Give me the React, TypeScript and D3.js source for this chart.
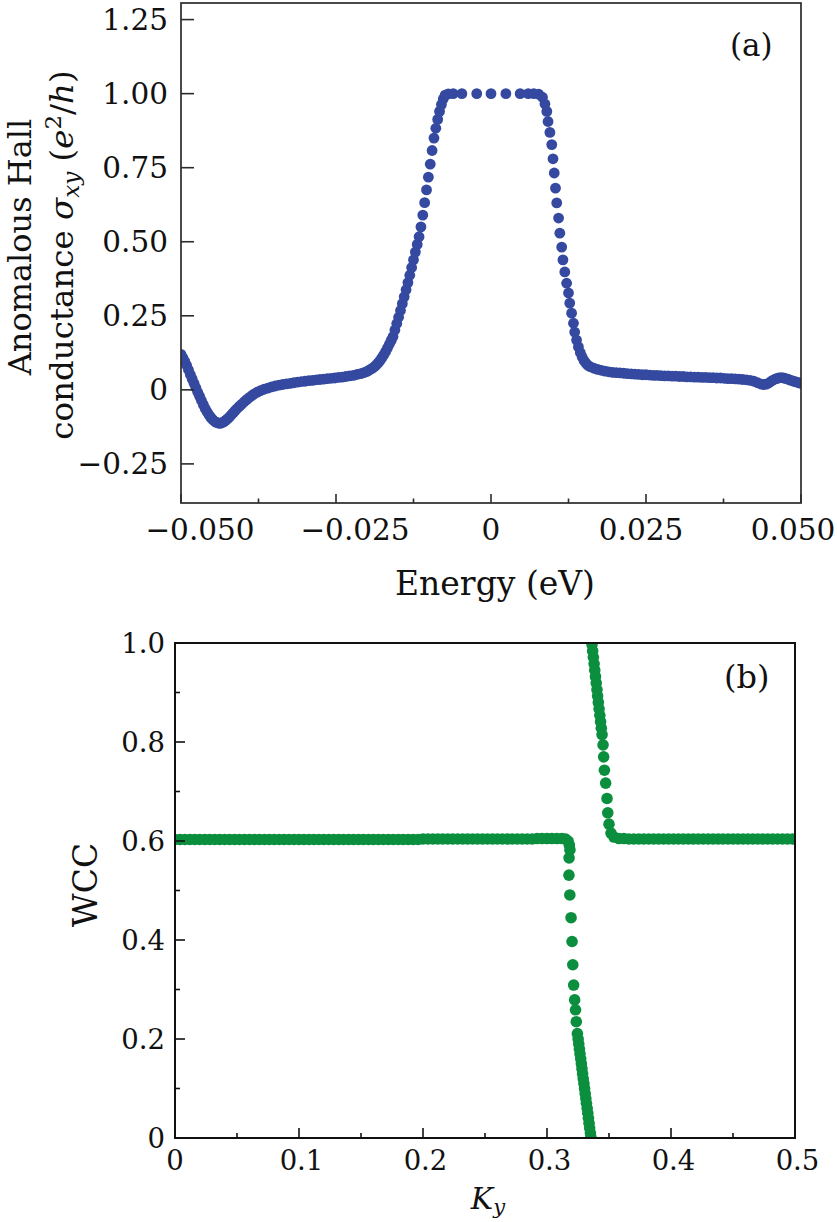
import React from "react";
import * as d3 from "d3";

type Pt = [number, number];

// ---------- (a) anomalous Hall conductance sigma_xy (e^2/h) versus energy (eV)
const hallLowTail: Pt[] = [
  [-0.05, 0.12], [-0.0497, 0.108], [-0.0494, 0.096], [-0.0491, 0.083], [-0.0488, 0.068],
  [-0.0485, 0.052], [-0.0482, 0.037], [-0.0479, 0.022], [-0.0476, 0.007], [-0.0473, -0.008],
  [-0.047, -0.022], [-0.0467, -0.036], [-0.0464, -0.05], [-0.0461, -0.063], [-0.0458, -0.074],
  [-0.0455, -0.084], [-0.0452, -0.093], [-0.0449, -0.1], [-0.0446, -0.106], [-0.0443, -0.11],
  [-0.044, -0.112], [-0.0437, -0.113], [-0.0434, -0.111], [-0.0431, -0.108], [-0.0428, -0.103],
  [-0.0425, -0.098], [-0.0422, -0.092], [-0.0419, -0.085], [-0.0416, -0.078], [-0.0413, -0.071],
  [-0.041, -0.064], [-0.0406, -0.056], [-0.0402, -0.048], [-0.0398, -0.04], [-0.0394, -0.033],
  [-0.039, -0.026], [-0.0386, -0.02], [-0.0382, -0.014], [-0.0377, -0.008], [-0.0372, -0.003],
  [-0.0366, 0.002], [-0.036, 0.006], [-0.0354, 0.01], [-0.0348, 0.013], [-0.0342, 0.016],
  [-0.0336, 0.018], [-0.033, 0.02], [-0.0324, 0.022], [-0.0318, 0.024], [-0.0312, 0.026],
  [-0.0306, 0.028], [-0.03, 0.029], [-0.0294, 0.031], [-0.0288, 0.032], [-0.0282, 0.034],
  [-0.0276, 0.035], [-0.027, 0.036], [-0.0264, 0.038], [-0.0258, 0.039], [-0.0252, 0.04],
  [-0.0246, 0.042], [-0.024, 0.043], [-0.0234, 0.045], [-0.0228, 0.047], [-0.0222, 0.049],
  [-0.0216, 0.052], [-0.021, 0.055], [-0.0205, 0.058], [-0.02, 0.062], [-0.0196, 0.067],
  [-0.0192, 0.072], [-0.0188, 0.078], [-0.0185, 0.084], [-0.0182, 0.091], [-0.0179, 0.099],
  [-0.0176, 0.108], [-0.0173, 0.118], [-0.017, 0.129], [-0.0167, 0.141], [-0.0164, 0.154],
  [-0.0161, 0.167],
];

const hallRise: Pt[] = [
  [-0.0158, 0.18], [-0.0155, 0.202], [-0.0152, 0.224], [-0.0149, 0.245], [-0.0146, 0.268],
  [-0.0143, 0.291], [-0.014, 0.314], [-0.0137, 0.338], [-0.0134, 0.362], [-0.0131, 0.387],
  [-0.0128, 0.413], [-0.0125, 0.439], [-0.0122, 0.465], [-0.0119, 0.491], [-0.0116, 0.517],
  [-0.0113, 0.55], [-0.011, 0.59], [-0.0107, 0.632], [-0.0104, 0.675], [-0.0101, 0.718],
  [-0.0098, 0.762], [-0.0095, 0.808], [-0.0092, 0.85], [-0.0089, 0.883], [-0.0086, 0.913],
  [-0.0083, 0.94], [-0.008, 0.963], [-0.0077, 0.982], [-0.0074, 0.995],
];

const hallPlateau: Pt[] = [
  [-0.0069, 0.999], [-0.0061, 1.0], [-0.0047, 1.0], [-0.0023, 1.0], [0.0, 1.0],
  [0.0024, 1.0], [0.0047, 1.0], [0.006, 1.0], [0.0069, 1.0], [0.0077, 0.998],
];

const hallFall: Pt[] = [
  [0.0083, 0.988], [0.0087, 0.965], [0.009, 0.94], [0.0092, 0.906], [0.0095, 0.869],
  [0.0098, 0.828], [0.01, 0.78], [0.0102, 0.732], [0.0104, 0.681], [0.0106, 0.631],
  [0.0109, 0.58], [0.0111, 0.529], [0.0114, 0.482], [0.0116, 0.439], [0.0119, 0.398],
  [0.0122, 0.36], [0.0125, 0.327], [0.0127, 0.293], [0.013, 0.259], [0.0133, 0.225],
  [0.0135, 0.195], [0.0138, 0.168], [0.0141, 0.145], [0.0144, 0.126], [0.0147, 0.111],
  [0.015, 0.099], [0.0153, 0.09], [0.0156, 0.083],
];

const hallHighTail: Pt[] = [
  [0.016, 0.078], [0.0166, 0.073], [0.0172, 0.069], [0.0178, 0.066], [0.0184, 0.063],
  [0.019, 0.061], [0.0196, 0.059], [0.0202, 0.058], [0.0208, 0.057], [0.0214, 0.056],
  [0.022, 0.055], [0.0226, 0.054], [0.0232, 0.053], [0.0238, 0.052], [0.0244, 0.051],
  [0.025, 0.051], [0.0256, 0.05], [0.0262, 0.049], [0.0268, 0.049], [0.0274, 0.048],
  [0.028, 0.047], [0.0286, 0.047], [0.0292, 0.046], [0.0298, 0.046], [0.0304, 0.045],
  [0.031, 0.045], [0.0316, 0.044], [0.0322, 0.044], [0.0328, 0.043], [0.0334, 0.043],
  [0.034, 0.042], [0.0346, 0.042], [0.0352, 0.041], [0.0358, 0.041], [0.0364, 0.04],
  [0.037, 0.04], [0.0376, 0.039], [0.0382, 0.038], [0.0388, 0.038], [0.0394, 0.037],
  [0.04, 0.036], [0.0406, 0.035], [0.0412, 0.034], [0.0418, 0.032], [0.0424, 0.029],
  [0.043, 0.024], [0.0436, 0.019], [0.044, 0.018], [0.0444, 0.019], [0.0448, 0.023],
  [0.0452, 0.029], [0.0456, 0.034], [0.046, 0.038], [0.0464, 0.04], [0.0468, 0.041],
  [0.0472, 0.04], [0.0476, 0.038], [0.048, 0.035], [0.0484, 0.032], [0.0488, 0.029],
  [0.0492, 0.027], [0.0496, 0.024], [0.05, 0.022],
];

const energyMajorTicks = [-0.05, -0.025, 0, 0.025, 0.05];
const energyMinorTicks = [-0.0375, -0.0125, 0.0125, 0.0375];
const energyTickLabels = ["\u22120.050", "\u22120.025", "0", "0.025", "0.050"];
const hallTicks = [-0.25, 0, 0.25, 0.5, 0.75, 1.0, 1.25];
const hallTickLabels = ["\u22120.25", "0", "0.25", "0.50", "0.75", "1.00", "1.25"];

// ---------- (b) Wannier charge centre versus K_y
const wccFlatLeft: Pt[] = [
  [0.0, 0.603], [0.004, 0.603], [0.008, 0.603], [0.012, 0.603], [0.016, 0.603],
  [0.02, 0.603], [0.024, 0.603], [0.028, 0.603], [0.032, 0.603], [0.036, 0.603],
  [0.04, 0.603], [0.044, 0.603], [0.048, 0.603], [0.052, 0.603], [0.056, 0.603],
  [0.06, 0.603], [0.064, 0.603], [0.068, 0.603], [0.072, 0.603], [0.076, 0.603],
  [0.08, 0.603], [0.084, 0.603], [0.088, 0.603], [0.092, 0.603], [0.096, 0.603],
  [0.1, 0.603], [0.104, 0.603], [0.108, 0.603], [0.112, 0.603], [0.116, 0.603],
  [0.12, 0.603], [0.124, 0.603], [0.128, 0.603], [0.132, 0.603], [0.136, 0.603],
  [0.14, 0.603], [0.144, 0.603], [0.148, 0.603], [0.152, 0.603], [0.156, 0.603],
  [0.16, 0.603], [0.164, 0.603], [0.168, 0.603], [0.172, 0.603], [0.176, 0.603],
  [0.18, 0.603], [0.184, 0.603], [0.188, 0.603], [0.192, 0.603], [0.196, 0.603],
  [0.2, 0.604], [0.204, 0.604], [0.208, 0.604], [0.212, 0.604], [0.216, 0.604],
  [0.22, 0.604], [0.224, 0.604], [0.228, 0.604], [0.232, 0.604], [0.236, 0.604],
  [0.24, 0.604], [0.244, 0.604], [0.248, 0.604], [0.252, 0.604], [0.256, 0.604],
  [0.26, 0.604], [0.264, 0.604], [0.268, 0.604], [0.272, 0.604], [0.276, 0.604],
  [0.28, 0.604], [0.284, 0.604], [0.288, 0.604], [0.292, 0.605], [0.296, 0.605],
  [0.3, 0.605], [0.304, 0.605], [0.308, 0.605], [0.312, 0.605], [0.315, 0.604],
];

const wccLowerBranch: Pt[] = [
  [0.317, 0.6], [0.318, 0.592], [0.3185, 0.582], [0.3178, 0.566], [0.3177, 0.531],
  [0.3184, 0.491], [0.3194, 0.445], [0.3202, 0.397], [0.3208, 0.35], [0.3215, 0.309],
  [0.3223, 0.279], [0.323, 0.259], [0.3236, 0.235], [0.3245, 0.211], [0.3251, 0.2],
  [0.3256, 0.19], [0.3261, 0.18], [0.3266, 0.17], [0.3272, 0.16], [0.3277, 0.15],
  [0.3282, 0.14], [0.3287, 0.13], [0.3292, 0.12], [0.3298, 0.11], [0.3303, 0.1],
  [0.3308, 0.09], [0.3313, 0.08], [0.3318, 0.07], [0.3324, 0.06], [0.3329, 0.05],
  [0.3334, 0.04], [0.3339, 0.03], [0.3344, 0.02], [0.335, 0.01], [0.3354, 0.002],
];

const wccUpperBranch: Pt[] = [
  [0.3357, 1.01], [0.3363, 0.997], [0.3368, 0.984], [0.3374, 0.971], [0.338, 0.958],
  [0.3385, 0.945], [0.3391, 0.932], [0.3397, 0.919], [0.3403, 0.906], [0.3408, 0.893],
  [0.3414, 0.88], [0.342, 0.867], [0.3426, 0.854], [0.3432, 0.841], [0.3438, 0.828],
  [0.3444, 0.815], [0.3452, 0.794], [0.3457, 0.77], [0.3463, 0.743], [0.3473, 0.717],
  [0.3484, 0.686], [0.349, 0.657], [0.35, 0.634], [0.3516, 0.616], [0.354, 0.608],
];

const wccFlatRight: Pt[] = [
  [0.358, 0.605], [0.362, 0.605], [0.366, 0.604], [0.37, 0.604], [0.374, 0.604],
  [0.378, 0.604], [0.382, 0.604], [0.386, 0.604], [0.39, 0.604], [0.394, 0.604],
  [0.398, 0.604], [0.402, 0.604], [0.406, 0.604], [0.41, 0.604], [0.414, 0.604],
  [0.418, 0.604], [0.422, 0.604], [0.426, 0.604], [0.43, 0.604], [0.434, 0.604],
  [0.438, 0.604], [0.442, 0.604], [0.446, 0.604], [0.45, 0.604], [0.454, 0.604],
  [0.458, 0.604], [0.462, 0.604], [0.466, 0.604], [0.47, 0.604], [0.474, 0.604],
  [0.478, 0.604], [0.482, 0.604], [0.486, 0.604], [0.49, 0.604], [0.494, 0.604],
  [0.498, 0.604], [0.502, 0.604],
];

const kyMajorTicks = [0, 0.1, 0.2, 0.3, 0.4, 0.5];
const kyMinorTicks = [0.05, 0.15, 0.25, 0.35, 0.45];
const kyTickLabels = ["0", "0.1", "0.2", "0.3", "0.4", "0.5"];
const wccMajorTicks = [0, 0.2, 0.4, 0.6, 0.8, 1.0];
const wccMinorTicks = [0.1, 0.3, 0.5, 0.7, 0.9];
const wccTickLabels = ["0", "0.2", "0.4", "0.6", "0.8", "1.0"];

const FONT = "'DejaVu Serif', serif";
const BLUE = "#34499f";
const GREEN = "#0b8f3e";

export default function App() {
  // panel (a)
  const xA = d3.scaleLinear().domain([-0.05, 0.05]).range([181, 801]);
  const yA = d3.scaleLinear().domain([-0.382, 1.306]).range([503, 3]);
  // panel (b)
  const xB = d3.scaleLinear().domain([0, 0.5]).range([175, 795]);
  const yB = d3.scaleLinear().domain([0, 1]).range([1138, 643]);

  const hall = [...hallLowTail, ...hallRise, ...hallPlateau, ...hallFall, ...hallHighTail];
  const wcc = [...wccFlatLeft, ...wccLowerBranch, ...wccUpperBranch, ...wccFlatRight];

  const [aL, aR] = xA.range();
  const [aB, aT] = yA.range();
  const [bL, bR] = xB.range();
  const [bB, bT] = yB.range();

  // energy labels sit slightly off their ticks (signed labels lean right)
  const energyLabelShift = (v: number) => (v < 0 ? 19 : v > 0.04 ? -8 : v > 0 ? -5 : 0);

  return (
    <svg
      width={837}
      height={1222}
      style={{ position: "absolute", left: 0, top: 0, background: "#fff" }}
      fontFamily={FONT}
    >
      <defs>
        <clipPath id="clipA">
          <rect x={aL} y={aT} width={aR - aL} height={aB - aT} />
        </clipPath>
        <clipPath id="clipB">
          <rect x={bL} y={bT} width={bR - bL} height={bB - bT} />
        </clipPath>
      </defs>

      {/* ---------- panel (a) ---------- */}
      <g clipPath="url(#clipA)">
        {hall.map(([e, s], i) => (
          <circle key={i} cx={xA(e)} cy={yA(s)} r={5.4} fill={BLUE} />
        ))}
      </g>
      <rect x={aL} y={aT} width={aR - aL} height={aB - aT} fill="none" stroke="#2b2b2b" strokeWidth={1.7} />
      {hallTicks.map((v) => (
        <line key={v} x1={aL} x2={aL + 13} y1={yA(v)} y2={yA(v)} stroke="#2b2b2b" strokeWidth={1.6} />
      ))}
      {energyMajorTicks.map((v) => (
        <line key={v} x1={xA(v)} x2={xA(v)} y1={aB} y2={aB - 9} stroke="#2b2b2b" strokeWidth={1.6} />
      ))}
      {energyMinorTicks.map((v) => (
        <line key={v} x1={xA(v)} x2={xA(v)} y1={aB} y2={aB - 4.5} stroke="#2b2b2b" strokeWidth={1.6} />
      ))}
      {hallTicks.map((v, i) => (
        <text key={v} x={aL - 13} y={yA(v) + 10.5} fontSize={29.5} textAnchor="end" fill="#111">
          {hallTickLabels[i]}
        </text>
      ))}
      {energyMajorTicks.map((v, i) => (
        <text key={v} x={xA(v) + energyLabelShift(v)} y={540} fontSize={29.5} textAnchor="middle" fill="#111">
          {energyTickLabels[i]}
        </text>
      ))}
      <text x={495} y={595} fontSize={33} textAnchor="middle" fill="#111">
        Energy (eV)
      </text>
      <text transform="translate(31,247) rotate(-90)" fontSize={32} textAnchor="middle" fill="#111">
        Anomalous Hall
      </text>
      <text transform="translate(73,255) rotate(-90)" fontSize={32.5} textAnchor="middle" fill="#111">
        conductance{" "}
        <tspan fontStyle="italic">σ</tspan>
        <tspan fontStyle="italic" fontSize={23} dy={6}>
          xy
        </tspan>
        <tspan dy={-6}> (</tspan>
        <tspan fontStyle="italic">e</tspan>
        <tspan fontSize={23} dy={-12}>
          2
        </tspan>
        <tspan dy={12}>/</tspan>
        <tspan fontStyle="italic">h</tspan>
        <tspan>)</tspan>
      </text>
      <text x={730} y={56} fontSize={31} fill="#111">
        (a)
      </text>

      {/* ---------- panel (b) ---------- */}
      <g clipPath="url(#clipB)">
        {wcc.map(([k, w], i) => (
          <circle key={i} cx={xB(k)} cy={yB(w)} r={5.8} fill={GREEN} />
        ))}
      </g>
      <rect x={bL} y={bT} width={bR - bL} height={bB - bT} fill="none" stroke="#111" strokeWidth={2} />
      {wccMajorTicks.map((v) => (
        <line key={v} x1={bL} x2={bL + 10} y1={yB(v)} y2={yB(v)} stroke="#111" strokeWidth={1.6} />
      ))}
      {wccMinorTicks.map((v) => (
        <line key={v} x1={bL} x2={bL + 5} y1={yB(v)} y2={yB(v)} stroke="#111" strokeWidth={1.6} />
      ))}
      {kyMajorTicks.map((v) => (
        <line key={v} x1={xB(v)} x2={xB(v)} y1={bB} y2={bB - 10} stroke="#111" strokeWidth={1.6} />
      ))}
      {kyMinorTicks.map((v) => (
        <line key={v} x1={xB(v)} x2={xB(v)} y1={bB} y2={bB - 5} stroke="#111" strokeWidth={1.6} />
      ))}
      {wccMajorTicks.map((v, i) => (
        <text key={v} x={bL - 10} y={yB(v) + 10} fontSize={27.5} textAnchor="end" fill="#111">
          {wccTickLabels[i]}
        </text>
      ))}
      {kyMajorTicks.map((v, i) => (
        <text key={v} x={xB(v) + (v > 0 ? 2.5 : 0)} y={1170} fontSize={27.5} textAnchor="middle" fill="#111">
          {kyTickLabels[i]}
        </text>
      ))}
      <text x={488} y={1209} fontSize={30} textAnchor="middle" fill="#111">
        <tspan fontStyle="italic">K</tspan>
        <tspan fontStyle="italic" fontSize={21} dy={5}>
          y
        </tspan>
      </text>
      <text transform="translate(97,885) rotate(-90)" fontSize={33} textAnchor="middle" fill="#111">
        WCC
      </text>
      <text x={724} y={687.5} fontSize={32} fill="#111">
        (b)
      </text>
    </svg>
  );
}
